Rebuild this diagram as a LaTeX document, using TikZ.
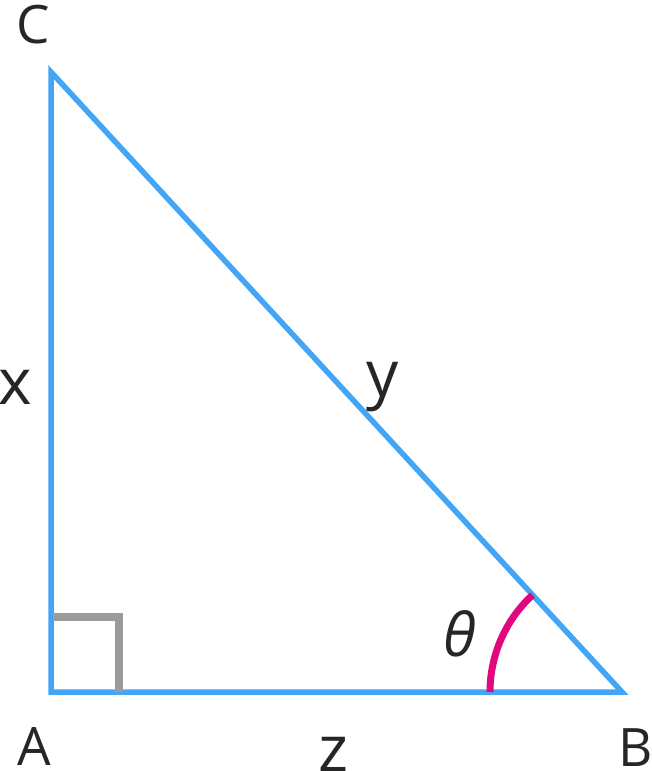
\documentclass[tikz,border=0pt]{standalone}
\usepackage{fontspec}
\setmainfont{Open Sans}
\definecolor{sideblue}{HTML}{42A5F5}
\definecolor{anglepink}{HTML}{E2067F}
\definecolor{markgray}{HTML}{9B9B9B}
\definecolor{textdark}{HTML}{262626}
\begin{document}
\begin{tikzpicture}[
        x=1pt, y=-1pt,
        side/.style={draw=sideblue, line width=5.5pt, line join=miter},% triangle sides
        rightmark/.style={draw=markgray, line width=8pt},% right angle square
        anglemark/.style={draw=anglepink, line width=7pt},% angle theta
        vertex/.style={inner sep=0pt, anchor=base, text=textdark, font=\fontsize{53}{60}\selectfont},% corner letter
        sidename/.style={inner sep=0pt, anchor=base, text=textdark, font=\fontsize{64}{72}\selectfont},% side letter
    ]
        \useasboundingbox (0,0) rectangle (651,771);

        \coordinate (A) at (51,692);
        \coordinate (B) at (622,692);
        \coordinate (C) at (51,72);

        \draw [side] (A) -- (B) -- (C) -- cycle;
        \draw [rightmark] (53,617) -| (119,692);
        \draw [anglemark] (B) ++(180:132) arc (180:227.3:132);

        \node [vertex] (labelC) at (33,43) {C};
        \node [vertex] (labelA) at (34,765) {A};
        \node [vertex] (labelB) at (636,766) {B};

        \node [sidename] (labelX) at (15,404) {x};
        \node [sidename] (labelY) at (383,396) {y};
        \node [sidename] (labelZ) at (333,771) {z};
        \node [sidename, font=\fontsize{60}{68}\selectfont\itshape] (labelTheta) at (460,656) {θ};
    \end{tikzpicture}
\end{document}
